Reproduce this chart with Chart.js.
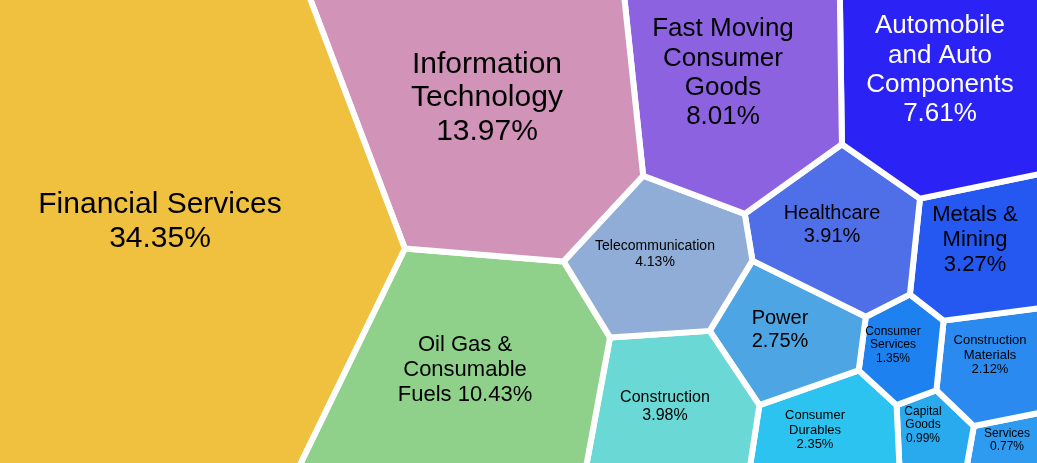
<!DOCTYPE html>
<html><head><meta charset="utf-8">
<script src="https://cdn.jsdelivr.net/npm/chart.js@4"></script>
<style>html,body{margin:0;background:#fff}#wrap{width:1037px;height:463px}</style>
</head><body><div id="wrap"><canvas id="c"></canvas></div>
<script>
const sectors = ['Financial Services','Information Technology','Fast Moving Consumer Goods','Automobile and Auto Components','Telecommunication','Healthcare','Metals & Mining','Oil Gas & Consumable Fuels','Construction','Power','Consumer Services','Construction Materials','Consumer Durables','Capital Goods','Services'];
const shares = [34.35,13.97,8.01,7.61,4.13,3.91,3.27,10.43,3.98,2.75,1.35,2.12,2.35,0.99,0.77];
const labelLines = [['Financial Services'],['Information','Technology'],['Fast Moving','Consumer','Goods'],['Automobile','and Auto','Components'],['Telecommunication'],['Healthcare'],['Metals &','Mining'],['Oil Gas &','Consumable','Fuels'],['Construction'],['Power'],['Consumer','Services'],['Construction','Materials'],['Consumer','Durables'],['Capital','Goods'],['Services']];
// seed sites of each cell (layout), in chart units; labels sit on them
const siteX = [160,487,723,940,655,832,975,465,665,780,893,990,815,923,1007];
const siteY = [222,98,73,70,254,225,240,370,407,330,345,355,430,425,440];
const colors = ['#EFC13E','#D194B8','#8C62E0','#2B22F5','#8FADD6','#4E6FE8','#2558F0','#8FD18A','#6AD8D5','#4EA5E3','#1D82F0','#2A8AF0','#2CC3F0','#29A9EE','#2E9AF0'];
const fontSizes = [30,30,26,26,14,20,22,22,16,20,12,13,13,12,12];
const W = 1037, H = 463;

function clip(poly, a, b, c) { // keep a*x+b*y <= c
  const out = [];
  for (let i = 0; i < poly.length; i++) {
    const p = poly[i], q = poly[(i + 1) % poly.length];
    const fp = a * p[0] + b * p[1] - c, fq = a * q[0] + b * q[1] - c;
    if (fp <= 0) out.push(p);
    if ((fp < 0 && fq > 0) || (fp > 0 && fq < 0)) {
      const t = fp / (fp - fq);
      out.push([p[0] + t * (q[0] - p[0]), p[1] + t * (q[1] - p[1])]);
    }
  }
  return out;
}
function area(poly) {
  let s = 0;
  for (let i = 0; i < poly.length; i++) { const p = poly[i], q = poly[(i + 1) % poly.length]; s += p[0] * q[1] - q[0] * p[1]; }
  return Math.abs(s) / 2;
}
const E = 8;
function cells(w) {
  return siteX.map((xi, i) => {
    let poly = [[-E, -E], [W + E, -E], [W + E, H + E], [-E, H + E]];
    for (let j = 0; j < siteX.length && poly.length; j++) {
      if (j === i) continue;
      const a = 2 * (siteX[j] - xi), b = 2 * (siteY[j] - siteY[i]);
      const c = siteX[j] ** 2 + siteY[j] ** 2 - xi ** 2 - siteY[i] ** 2 - w[j] + w[i];
      poly = clip(poly, a, b, c);
    }
    return poly;
  });
}
const total = shares.reduce((a, b) => a + b, 0);
const target = shares.map(s => s / total * (W + 2 * E) * (H + 2 * E));
let w = shares.map(() => 0), polys;
for (let it = 0; it < 800; it++) {
  polys = cells(w);
  polys.forEach((p, i) => { w[i] += 0.4 * (target[i] - area(p)); });
}
polys = cells(w);

const datasets = polys.map((p, i) => ({
  label: sectors[i],
  data: p.concat([p[0]]).map(v => ({ x: v[0], y: v[1] })),
  showLine: true, fill: 'shape', backgroundColor: colors[i],
  borderColor: '#fff', borderWidth: 6, borderJoinStyle: 'round', pointRadius: 0, tension: 0, clip: false
}));

const labels = {
  id: 'labels',
  afterDatasetsDraw(chart) {
    const { ctx, scales: { x, y } } = chart;
    ctx.save(); ctx.textAlign = 'center'; ctx.textBaseline = 'middle';
    sectors.forEach((s, i) => {
      const lines = labelLines[i].slice();
      const pct = shares[i].toFixed(2) + '%';
      if (i === 7) lines[lines.length - 1] += ' ' + pct; else lines.push(pct);
      const fs = fontSizes[i], lh = fs * 1.12;
      ctx.font = fs + 'px "Liberation Sans", Arial, sans-serif';
      ctx.fillStyle = (i === 3) ? '#fff' : '#000';
      const px = x.getPixelForValue(siteX[i]), py = y.getPixelForValue(siteY[i]);
      lines.forEach((t, k) => ctx.fillText(t, px, py + (k - (lines.length - 1) / 2) * lh));
    });
    ctx.restore();
  }
};

new Chart(document.getElementById('c'), {
  type: 'scatter',
  data: { datasets },
  options: {
    responsive: true, maintainAspectRatio: false, animation: false,
    layout: { padding: 0 },
    scales: {
      x: { type: 'linear', min: 0, max: W, display: false },
      y: { type: 'linear', min: 0, max: H, reverse: true, display: false }
    },
    plugins: { legend: { display: false }, tooltip: { enabled: false } }
  },
  plugins: [labels]
});
</script></body></html>
